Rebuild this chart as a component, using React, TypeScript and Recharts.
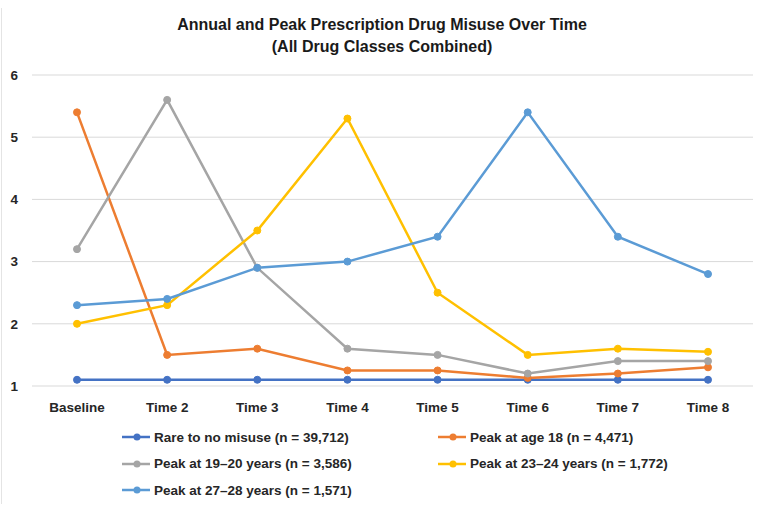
import React from "react";
import { LineChart, Line, XAxis, YAxis, CartesianGrid, Legend } from "recharts";

const categories = ["Baseline", "Time 2", "Time 3", "Time 4", "Time 5", "Time 6", "Time 7", "Time 8"];
const rareToNo = [1.1, 1.1, 1.1, 1.1, 1.1, 1.1, 1.1, 1.1];
const peakAge18 = [5.4, 1.5, 1.6, 1.25, 1.25, 1.13, 1.2, 1.3];
const peak1920 = [3.2, 5.6, 2.9, 1.6, 1.5, 1.2, 1.4, 1.4];
const peak2324 = [2.0, 2.3, 3.5, 5.3, 2.5, 1.5, 1.6, 1.55];
const peak2728 = [2.3, 2.4, 2.9, 3.0, 3.4, 5.4, 3.4, 2.8];
const yTicks = [1, 2, 3, 4, 5, 6];

const seriesNames = [
  "Rare to no misuse (n = 39,712)",
  "Peak at age 18 (n = 4,471)",
  "Peak at 19\u201320 years (n = 3,586)",
  "Peak at 23\u201324 years (n = 1,772)",
  "Peak at 27\u201328 years (n = 1,571)",
];
const seriesValues = [rareToNo, peakAge18, peak1920, peak2324, peak2728];
const seriesColors = ["#4472C4", "#ED7D31", "#A5A5A5", "#FFC000", "#5B9BD5"];
const seriesKeys = ["s0", "s1", "s2", "s3", "s4"];

const data = categories.map((c, i) => {
  const row: Record<string, string | number> = { category: c };
  seriesKeys.forEach((k, j) => {
    row[k] = seriesValues[j][i];
  });
  return row;
});

const FONT = "'Liberation Sans Narrow', 'Liberation Sans', Arial, sans-serif";

const LegendContent = (props: any) => {
  const payload = [...(props.payload || [])].sort(
    (a: any, b: any) => seriesKeys.indexOf(a.dataKey) - seriesKeys.indexOf(b.dataKey)
  );
  return (
    <div style={{ position: "relative", width: 768, height: 80 }}>
      {payload.map((p: any, i: number) => {
        const col = i % 2;
        const row = Math.floor(i / 2);
        const left = col === 0 ? 122 : 438;
        const top = row * 26.5;
        return (
          <div
            key={i}
            style={{
              position: "absolute",
              left,
              top,
              height: 20,
              display: "flex",
              alignItems: "center",
              whiteSpace: "nowrap",
            }}
          >
            <svg width={30} height={10} style={{ marginRight: 2 }}>
              <line x1={0} y1={5} x2={28} y2={5} stroke={p.color} strokeWidth={2.5} />
              <circle cx={15} cy={5} r={3.5} fill={p.color} />
            </svg>
            <span
              style={{
                fontFamily: FONT,
                fontWeight: 700,
                fontSize: 13.5,
                color: "#262626",
              }}
            >
              {p.value}
            </span>
          </div>
        );
      })}
    </div>
  );
};

export default function App() {
  return (
    <div style={{ position: "relative", width: 768, height: 512, background: "#fff" }}>
      <style>{`body{margin:0}`}</style>
      <div
        style={{
          position: "absolute",
          left: 1,
          top: 8,
          width: 1,
          height: 496,
          background: "#e4e4e4",
        }}
      />
      <div
        style={{
          position: "absolute",
          left: 0,
          top: 14,
          width: 764,
          textAlign: "center",
          fontFamily: FONT,
          fontWeight: 700,
          fontSize: 16,
          lineHeight: "22px",
          color: "#1a1a1a",
        }}
      >
        <div>Annual and Peak Prescription Drug Misuse Over Time</div>
        <div>(All Drug Classes Combined)</div>
      </div>
      <LineChart
        width={768}
        height={512}
        data={data}
        margin={{ top: 75, right: 15, bottom: 96, left: 0 }}
      >
        <CartesianGrid vertical={false} stroke="#d9d9d9" strokeWidth={1} />
        <XAxis
          dataKey="category"
          axisLine={false}
          tickLine={false}
          interval={0}
          tickMargin={10}
          padding={{ left: 45, right: 45 }}
          tick={{ fontFamily: FONT, fontWeight: 700, fontSize: 13.5, fill: "#262626" }}
        />
        <YAxis
          domain={[1, 6]}
          ticks={yTicks}
          axisLine={false}
          tickLine={false}
          width={32}
          tick={{ fontFamily: FONT, fontWeight: 700, fontSize: 13.5, fill: "#262626", dx: -6 }}
        />
        <Legend
          layout="vertical"
          align="center"
          verticalAlign="middle"
          wrapperStyle={{ top: 427, left: 0, width: 768 }}
          content={<LegendContent />}
        />
        {seriesKeys.map((k, j) => (
          <Line
            key={k}
            dataKey={k}
            name={seriesNames[j]}
            stroke={seriesColors[j]}
            strokeWidth={2.5}
            dot={{ r: 3.5, fill: seriesColors[j], stroke: seriesColors[j], strokeWidth: 1 }}
            activeDot={false}
            isAnimationActive={false}
          />
        ))}
      </LineChart>
    </div>
  );
}
